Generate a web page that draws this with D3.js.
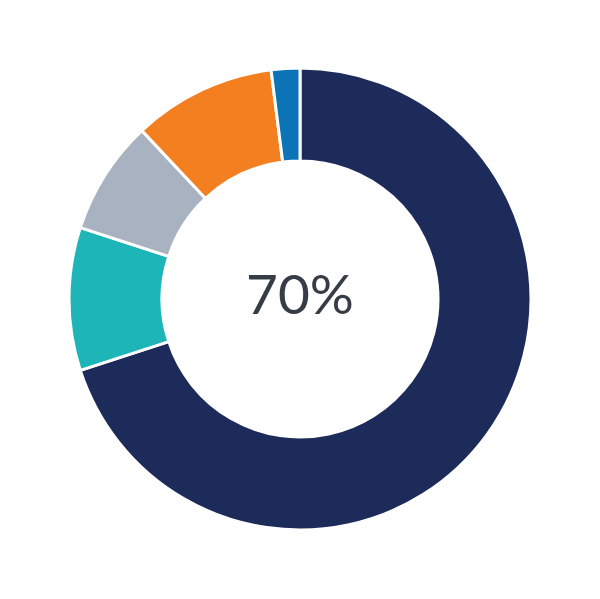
<!DOCTYPE html>
<html>
<head>
<meta charset="utf-8" />
<script src="https://cdn.jsdelivr.net/npm/d3@7"></script>
<style>
  body { margin: 0; background: #fff; }
</style>
</head>
<body>
<div id="chart"></div>
<script>
  var categories = ["A", "B", "C", "D", "E"];
  var values = [70, 10, 8, 10, 2];
  var colors = ["#1c2b5a", "#1db5b7", "#a9b2c0", "#f37f21", "#0b74b6"];
  var centerLabel = "70%";

  var width = 600, height = 599;
  var cx = 300, cy = 299;
  var outerR = 231, innerR = 138;

  var svg = d3.select("#chart").append("svg")
    .attr("width", width)
    .attr("height", height);

  var g = svg.append("g").attr("transform", "translate(" + cx + "," + cy + ")");

  var pie = d3.pie().sort(null).value(function (d) { return d; });
  var arc = d3.arc().innerRadius(innerR).outerRadius(outerR);

  g.selectAll("path")
    .data(pie(values))
    .enter()
    .append("path")
    .attr("d", arc)
    .attr("fill", function (d, i) { return colors[i]; })
    .attr("stroke", "#fff")
    .attr("stroke-width", 3);

  g.append("text")
    .attr("text-anchor", "middle")
    .attr("y", 15)
    .attr("font-family", "Lato, 'Open Sans', sans-serif")
    .attr("font-weight", 400)
    .attr("font-size", "55px")
    .attr("fill", "#373d46")
    .text(centerLabel);
</script>
</body>
</html>
